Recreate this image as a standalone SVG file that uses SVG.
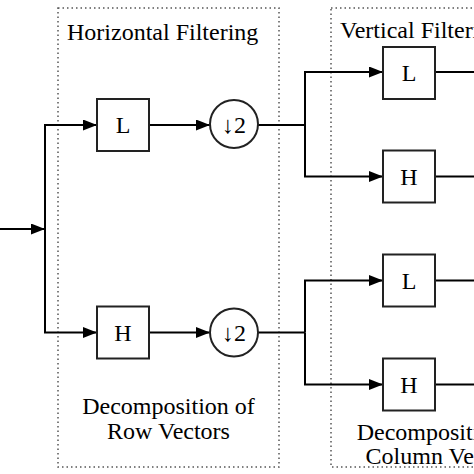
<svg xmlns="http://www.w3.org/2000/svg" width="474" height="474" viewBox="0 0 474 474">
<style>
.frame{fill:none;stroke:#555;stroke-width:1.5;stroke-dasharray:1.5 3}
.box{fill:#fff;stroke:#222;stroke-width:2}
.conn{fill:none;stroke:#000;stroke-width:2}
text{font-family:"Liberation Serif","Times New Roman",serif;font-size:24px;fill:#000}
.c{text-anchor:middle}
</style>
<defs>
<marker id="ah" viewBox="0 0 14 11" refX="14" refY="5.5" markerWidth="14" markerHeight="11" markerUnits="userSpaceOnUse" orient="auto">
<path d="M0,0 L14,5.5 L0,11 Z" fill="#000"/>
</marker>
</defs>
<rect width="474" height="474" fill="#fff"/>
<g id="frames">
<rect class="frame" x="58" y="8" width="221" height="459"/>
<rect class="frame" x="331" y="8" width="224" height="459"/>
<text x="67" y="40">Horizontal Filtering</text>
<text x="340" y="38">Vertical Filtering</text>
<text class="c" x="168.5" y="414">Decomposition of</text>
<text class="c" x="168.5" y="439">Row Vectors</text>
<text class="c" x="443" y="440">Decomposition of</text>
<text class="c" x="443" y="464">Column Vectors</text>
</g>
<g id="connectors">
<path class="conn" d="M0,229 H45" marker-end="url(#ah)"/>
<path class="conn" d="M45,228 V125 H97" marker-end="url(#ah)"/>
<path class="conn" d="M45,228 V332.5 H97" marker-end="url(#ah)"/>
<path class="conn" d="M149,125 H210" marker-end="url(#ah)"/>
<path class="conn" d="M149,332.5 H210" marker-end="url(#ah)"/>
<path class="conn" d="M258,125 H305"/>
<path class="conn" d="M305,125 V72 H383" marker-end="url(#ah)"/>
<path class="conn" d="M305,125 V176.5 H383" marker-end="url(#ah)"/>
<path class="conn" d="M258,332.5 H305"/>
<path class="conn" d="M305,332.5 V280.5 H383" marker-end="url(#ah)"/>
<path class="conn" d="M305,332.5 V384.5 H383" marker-end="url(#ah)"/>
<path class="conn" d="M435,72 H474"/>
<path class="conn" d="M435,176.5 H474"/>
<path class="conn" d="M435,280.5 H474"/>
<path class="conn" d="M435,384.5 H474"/>
</g>
<g id="hL"><rect class="box" x="97" y="99" width="52" height="52"/><text class="c" x="123" y="133">L</text></g>
<g id="hH"><rect class="box" x="97" y="306.5" width="52" height="52"/><text class="c" x="123" y="341">H</text></g>
<g id="d1"><circle class="box" cx="234" cy="124" r="24"/><text class="c" x="234" y="132.5">↓2</text></g>
<g id="d2"><circle class="box" cx="234" cy="332.5" r="24"/><text class="c" x="234" y="341">↓2</text></g>
<g id="vL1"><rect class="box" x="383" y="47" width="52" height="52"/><text class="c" x="409" y="81">L</text></g>
<g id="vH1"><rect class="box" x="383" y="150.5" width="52" height="52"/><text class="c" x="409" y="185">H</text></g>
<g id="vL2"><rect class="box" x="383" y="254.5" width="52" height="52"/><text class="c" x="409" y="289">L</text></g>
<g id="vH2"><rect class="box" x="383" y="358.5" width="52" height="52"/><text class="c" x="409" y="393">H</text></g>
</svg>
